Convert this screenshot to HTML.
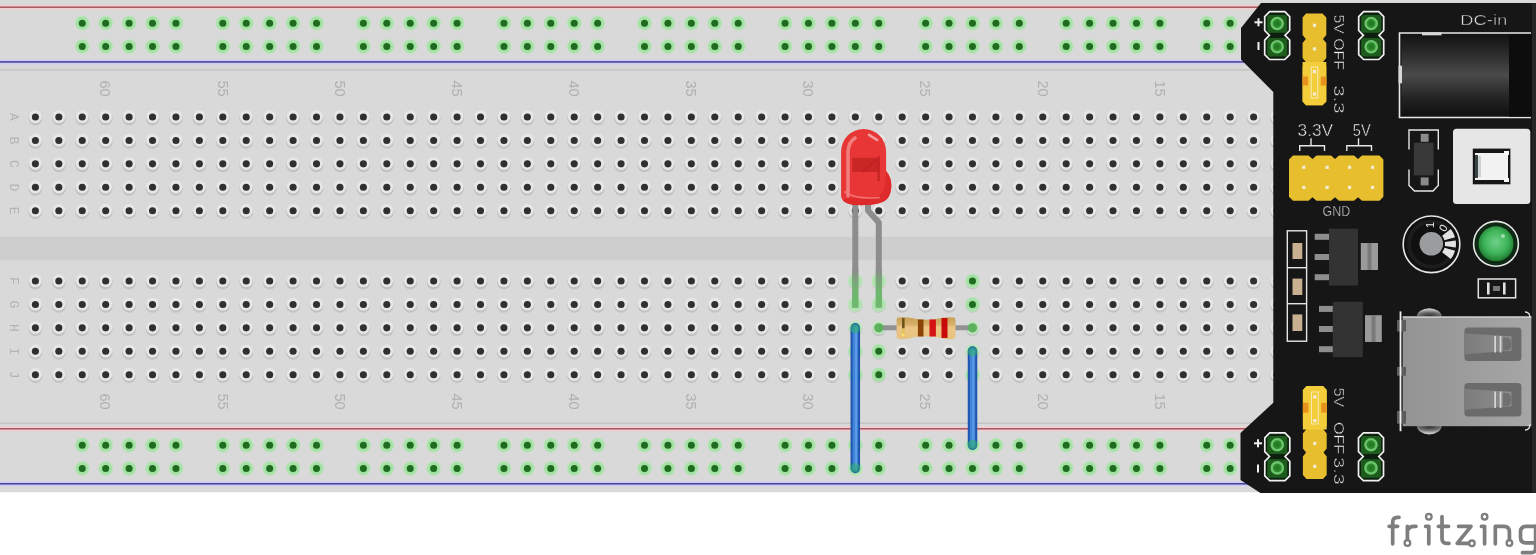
<!DOCTYPE html>
<html><head><meta charset="utf-8"><title>Fritzing breadboard</title>
<style>html,body{margin:0;padding:0;background:#fff;width:1536px;height:555px;overflow:hidden;font-family:"Liberation Sans",sans-serif}svg{display:block;filter:blur(0.45px)}</style>
</head><body>
<svg width="1536" height="555" viewBox="0 0 1536 555">
<defs>
<linearGradient id="hl" x1="0" y1="0" x2="0" y2="1">
 <stop offset="0" stop-color="#f6f6f6"/><stop offset="0.45" stop-color="#efefef"/><stop offset="0.7" stop-color="#d2d2d2"/><stop offset="1" stop-color="#bababa"/>
</linearGradient>
<radialGradient id="gh" cx="0.5" cy="0.5" r="0.5">
 <stop offset="0" stop-color="#98dc98"/><stop offset="0.8" stop-color="#a8e2a8"/><stop offset="1" stop-color="#bce6bc" stop-opacity="0.6"/>
</radialGradient>
<filter id="bl" x="-30%" y="-30%" width="160%" height="160%"><feGaussianBlur stdDeviation="0.9"/></filter><filter id="bl3" x="-30%" y="-30%" width="160%" height="160%"><feGaussianBlur stdDeviation="0.75"/></filter><filter id="bl2" x="-30%" y="-30%" width="160%" height="160%"><feGaussianBlur stdDeviation="0.6"/></filter>
<g id="d"><circle cx="0" cy="1.5" r="6.9" fill="#c2c2c2" filter="url(#bl3)"/><circle cx="0" cy="-0.3" r="6.4" fill="#e7e7e7" filter="url(#bl3)"/><circle r="3.55" fill="#303030"/></g>
<g id="g"><circle r="7.6" fill="url(#gh)" filter="url(#bl2)"/><circle r="3.5" fill="#1f6b1f"/></g>
<g id="gd"><circle cx="0" cy="1.5" r="6.9" fill="#c2c2c2" filter="url(#bl3)"/><circle r="7.6" fill="url(#gh)" filter="url(#bl2)"/><circle r="3.5" fill="#1f6b1f"/></g>
<g id="hdr">
 <path d="M-7.6,-11.8 L7.6,-11.8 L12.5,-6.9 L12.5,7 L7.8,11.8 L12.5,16.6 L12.5,31.1 L7.6,36 L-7.6,36 L-12.5,31.1 L-12.5,16.6 L-7.8,11.8 L-12.5,7 L-12.5,-6.9 Z" fill="#0f1f0f" stroke="#f0f0f0" stroke-width="1.7"/>
 <rect x="-10" y="-8.6" width="20" height="17.8" rx="2.5" fill="#1d5c1d"/>
 <rect x="-10" y="14.6" width="20" height="18.4" rx="2.5" fill="#1d5c1d"/>
 <circle cy="0" r="5.6" fill="#2c8a2c" stroke="#6cc46c" stroke-width="2.4"/>
 <circle cy="23.2" r="5.6" fill="#2c8a2c" stroke="#6cc46c" stroke-width="2.4"/>
 <circle cy="0" r="2.4" fill="#237a23"/>
 <circle cy="23.2" r="2.4" fill="#237a23"/>
</g>
</defs>
<rect x="-5" y="-5" width="1545" height="497.2" fill="#d9d9d9"/>
<rect x="-5" y="236.8" width="1290" height="23.4" fill="#cecece"/>
<rect x="-5" y="4.7" width="1290" height="5" fill="#efd0d2"/>
<rect x="-5" y="6.5" width="1290" height="1.4" fill="#a44c56"/>
<rect x="-5" y="59.4" width="1290" height="5" fill="#cfcdf0"/>
<rect x="-5" y="61.2" width="1290" height="1.4" fill="#3a3494"/>
<rect x="-5" y="69.2" width="1290" height="1.4" fill="#c2c2c2"/>
<rect x="-5" y="422.5" width="1290" height="1.4" fill="#c2c2c2"/>
<rect x="-5" y="426.3" width="1290" height="5" fill="#efd0d2"/>
<rect x="-5" y="428.1" width="1290" height="1.4" fill="#a44c56"/>
<rect x="-5" y="481.3" width="1290" height="5" fill="#cfcdf0"/>
<rect x="-5" y="483.1" width="1290" height="1.4" fill="#3a3494"/>
<use href="#d" x="35.4" y="117"/>
<use href="#d" x="35.4" y="140.43"/>
<use href="#d" x="35.4" y="163.86"/>
<use href="#d" x="35.4" y="187.29"/>
<use href="#d" x="35.4" y="210.72"/>
<use href="#d" x="35.4" y="281"/>
<use href="#d" x="35.4" y="304.43"/>
<use href="#d" x="35.4" y="327.86"/>
<use href="#d" x="35.4" y="351.29"/>
<use href="#d" x="35.4" y="374.72"/>
<use href="#d" x="58.83" y="117"/>
<use href="#d" x="58.83" y="140.43"/>
<use href="#d" x="58.83" y="163.86"/>
<use href="#d" x="58.83" y="187.29"/>
<use href="#d" x="58.83" y="210.72"/>
<use href="#d" x="58.83" y="281"/>
<use href="#d" x="58.83" y="304.43"/>
<use href="#d" x="58.83" y="327.86"/>
<use href="#d" x="58.83" y="351.29"/>
<use href="#d" x="58.83" y="374.72"/>
<use href="#d" x="82.25" y="117"/>
<use href="#d" x="82.25" y="140.43"/>
<use href="#d" x="82.25" y="163.86"/>
<use href="#d" x="82.25" y="187.29"/>
<use href="#d" x="82.25" y="210.72"/>
<use href="#d" x="82.25" y="281"/>
<use href="#d" x="82.25" y="304.43"/>
<use href="#d" x="82.25" y="327.86"/>
<use href="#d" x="82.25" y="351.29"/>
<use href="#d" x="82.25" y="374.72"/>
<use href="#d" x="105.68" y="117"/>
<use href="#d" x="105.68" y="140.43"/>
<use href="#d" x="105.68" y="163.86"/>
<use href="#d" x="105.68" y="187.29"/>
<use href="#d" x="105.68" y="210.72"/>
<use href="#d" x="105.68" y="281"/>
<use href="#d" x="105.68" y="304.43"/>
<use href="#d" x="105.68" y="327.86"/>
<use href="#d" x="105.68" y="351.29"/>
<use href="#d" x="105.68" y="374.72"/>
<use href="#d" x="129.11" y="117"/>
<use href="#d" x="129.11" y="140.43"/>
<use href="#d" x="129.11" y="163.86"/>
<use href="#d" x="129.11" y="187.29"/>
<use href="#d" x="129.11" y="210.72"/>
<use href="#d" x="129.11" y="281"/>
<use href="#d" x="129.11" y="304.43"/>
<use href="#d" x="129.11" y="327.86"/>
<use href="#d" x="129.11" y="351.29"/>
<use href="#d" x="129.11" y="374.72"/>
<use href="#d" x="152.53" y="117"/>
<use href="#d" x="152.53" y="140.43"/>
<use href="#d" x="152.53" y="163.86"/>
<use href="#d" x="152.53" y="187.29"/>
<use href="#d" x="152.53" y="210.72"/>
<use href="#d" x="152.53" y="281"/>
<use href="#d" x="152.53" y="304.43"/>
<use href="#d" x="152.53" y="327.86"/>
<use href="#d" x="152.53" y="351.29"/>
<use href="#d" x="152.53" y="374.72"/>
<use href="#d" x="175.96" y="117"/>
<use href="#d" x="175.96" y="140.43"/>
<use href="#d" x="175.96" y="163.86"/>
<use href="#d" x="175.96" y="187.29"/>
<use href="#d" x="175.96" y="210.72"/>
<use href="#d" x="175.96" y="281"/>
<use href="#d" x="175.96" y="304.43"/>
<use href="#d" x="175.96" y="327.86"/>
<use href="#d" x="175.96" y="351.29"/>
<use href="#d" x="175.96" y="374.72"/>
<use href="#d" x="199.39" y="117"/>
<use href="#d" x="199.39" y="140.43"/>
<use href="#d" x="199.39" y="163.86"/>
<use href="#d" x="199.39" y="187.29"/>
<use href="#d" x="199.39" y="210.72"/>
<use href="#d" x="199.39" y="281"/>
<use href="#d" x="199.39" y="304.43"/>
<use href="#d" x="199.39" y="327.86"/>
<use href="#d" x="199.39" y="351.29"/>
<use href="#d" x="199.39" y="374.72"/>
<use href="#d" x="222.82" y="117"/>
<use href="#d" x="222.82" y="140.43"/>
<use href="#d" x="222.82" y="163.86"/>
<use href="#d" x="222.82" y="187.29"/>
<use href="#d" x="222.82" y="210.72"/>
<use href="#d" x="222.82" y="281"/>
<use href="#d" x="222.82" y="304.43"/>
<use href="#d" x="222.82" y="327.86"/>
<use href="#d" x="222.82" y="351.29"/>
<use href="#d" x="222.82" y="374.72"/>
<use href="#d" x="246.24" y="117"/>
<use href="#d" x="246.24" y="140.43"/>
<use href="#d" x="246.24" y="163.86"/>
<use href="#d" x="246.24" y="187.29"/>
<use href="#d" x="246.24" y="210.72"/>
<use href="#d" x="246.24" y="281"/>
<use href="#d" x="246.24" y="304.43"/>
<use href="#d" x="246.24" y="327.86"/>
<use href="#d" x="246.24" y="351.29"/>
<use href="#d" x="246.24" y="374.72"/>
<use href="#d" x="269.67" y="117"/>
<use href="#d" x="269.67" y="140.43"/>
<use href="#d" x="269.67" y="163.86"/>
<use href="#d" x="269.67" y="187.29"/>
<use href="#d" x="269.67" y="210.72"/>
<use href="#d" x="269.67" y="281"/>
<use href="#d" x="269.67" y="304.43"/>
<use href="#d" x="269.67" y="327.86"/>
<use href="#d" x="269.67" y="351.29"/>
<use href="#d" x="269.67" y="374.72"/>
<use href="#d" x="293.1" y="117"/>
<use href="#d" x="293.1" y="140.43"/>
<use href="#d" x="293.1" y="163.86"/>
<use href="#d" x="293.1" y="187.29"/>
<use href="#d" x="293.1" y="210.72"/>
<use href="#d" x="293.1" y="281"/>
<use href="#d" x="293.1" y="304.43"/>
<use href="#d" x="293.1" y="327.86"/>
<use href="#d" x="293.1" y="351.29"/>
<use href="#d" x="293.1" y="374.72"/>
<use href="#d" x="316.52" y="117"/>
<use href="#d" x="316.52" y="140.43"/>
<use href="#d" x="316.52" y="163.86"/>
<use href="#d" x="316.52" y="187.29"/>
<use href="#d" x="316.52" y="210.72"/>
<use href="#d" x="316.52" y="281"/>
<use href="#d" x="316.52" y="304.43"/>
<use href="#d" x="316.52" y="327.86"/>
<use href="#d" x="316.52" y="351.29"/>
<use href="#d" x="316.52" y="374.72"/>
<use href="#d" x="339.95" y="117"/>
<use href="#d" x="339.95" y="140.43"/>
<use href="#d" x="339.95" y="163.86"/>
<use href="#d" x="339.95" y="187.29"/>
<use href="#d" x="339.95" y="210.72"/>
<use href="#d" x="339.95" y="281"/>
<use href="#d" x="339.95" y="304.43"/>
<use href="#d" x="339.95" y="327.86"/>
<use href="#d" x="339.95" y="351.29"/>
<use href="#d" x="339.95" y="374.72"/>
<use href="#d" x="363.38" y="117"/>
<use href="#d" x="363.38" y="140.43"/>
<use href="#d" x="363.38" y="163.86"/>
<use href="#d" x="363.38" y="187.29"/>
<use href="#d" x="363.38" y="210.72"/>
<use href="#d" x="363.38" y="281"/>
<use href="#d" x="363.38" y="304.43"/>
<use href="#d" x="363.38" y="327.86"/>
<use href="#d" x="363.38" y="351.29"/>
<use href="#d" x="363.38" y="374.72"/>
<use href="#d" x="386.8" y="117"/>
<use href="#d" x="386.8" y="140.43"/>
<use href="#d" x="386.8" y="163.86"/>
<use href="#d" x="386.8" y="187.29"/>
<use href="#d" x="386.8" y="210.72"/>
<use href="#d" x="386.8" y="281"/>
<use href="#d" x="386.8" y="304.43"/>
<use href="#d" x="386.8" y="327.86"/>
<use href="#d" x="386.8" y="351.29"/>
<use href="#d" x="386.8" y="374.72"/>
<use href="#d" x="410.23" y="117"/>
<use href="#d" x="410.23" y="140.43"/>
<use href="#d" x="410.23" y="163.86"/>
<use href="#d" x="410.23" y="187.29"/>
<use href="#d" x="410.23" y="210.72"/>
<use href="#d" x="410.23" y="281"/>
<use href="#d" x="410.23" y="304.43"/>
<use href="#d" x="410.23" y="327.86"/>
<use href="#d" x="410.23" y="351.29"/>
<use href="#d" x="410.23" y="374.72"/>
<use href="#d" x="433.66" y="117"/>
<use href="#d" x="433.66" y="140.43"/>
<use href="#d" x="433.66" y="163.86"/>
<use href="#d" x="433.66" y="187.29"/>
<use href="#d" x="433.66" y="210.72"/>
<use href="#d" x="433.66" y="281"/>
<use href="#d" x="433.66" y="304.43"/>
<use href="#d" x="433.66" y="327.86"/>
<use href="#d" x="433.66" y="351.29"/>
<use href="#d" x="433.66" y="374.72"/>
<use href="#d" x="457.09" y="117"/>
<use href="#d" x="457.09" y="140.43"/>
<use href="#d" x="457.09" y="163.86"/>
<use href="#d" x="457.09" y="187.29"/>
<use href="#d" x="457.09" y="210.72"/>
<use href="#d" x="457.09" y="281"/>
<use href="#d" x="457.09" y="304.43"/>
<use href="#d" x="457.09" y="327.86"/>
<use href="#d" x="457.09" y="351.29"/>
<use href="#d" x="457.09" y="374.72"/>
<use href="#d" x="480.51" y="117"/>
<use href="#d" x="480.51" y="140.43"/>
<use href="#d" x="480.51" y="163.86"/>
<use href="#d" x="480.51" y="187.29"/>
<use href="#d" x="480.51" y="210.72"/>
<use href="#d" x="480.51" y="281"/>
<use href="#d" x="480.51" y="304.43"/>
<use href="#d" x="480.51" y="327.86"/>
<use href="#d" x="480.51" y="351.29"/>
<use href="#d" x="480.51" y="374.72"/>
<use href="#d" x="503.94" y="117"/>
<use href="#d" x="503.94" y="140.43"/>
<use href="#d" x="503.94" y="163.86"/>
<use href="#d" x="503.94" y="187.29"/>
<use href="#d" x="503.94" y="210.72"/>
<use href="#d" x="503.94" y="281"/>
<use href="#d" x="503.94" y="304.43"/>
<use href="#d" x="503.94" y="327.86"/>
<use href="#d" x="503.94" y="351.29"/>
<use href="#d" x="503.94" y="374.72"/>
<use href="#d" x="527.37" y="117"/>
<use href="#d" x="527.37" y="140.43"/>
<use href="#d" x="527.37" y="163.86"/>
<use href="#d" x="527.37" y="187.29"/>
<use href="#d" x="527.37" y="210.72"/>
<use href="#d" x="527.37" y="281"/>
<use href="#d" x="527.37" y="304.43"/>
<use href="#d" x="527.37" y="327.86"/>
<use href="#d" x="527.37" y="351.29"/>
<use href="#d" x="527.37" y="374.72"/>
<use href="#d" x="550.79" y="117"/>
<use href="#d" x="550.79" y="140.43"/>
<use href="#d" x="550.79" y="163.86"/>
<use href="#d" x="550.79" y="187.29"/>
<use href="#d" x="550.79" y="210.72"/>
<use href="#d" x="550.79" y="281"/>
<use href="#d" x="550.79" y="304.43"/>
<use href="#d" x="550.79" y="327.86"/>
<use href="#d" x="550.79" y="351.29"/>
<use href="#d" x="550.79" y="374.72"/>
<use href="#d" x="574.22" y="117"/>
<use href="#d" x="574.22" y="140.43"/>
<use href="#d" x="574.22" y="163.86"/>
<use href="#d" x="574.22" y="187.29"/>
<use href="#d" x="574.22" y="210.72"/>
<use href="#d" x="574.22" y="281"/>
<use href="#d" x="574.22" y="304.43"/>
<use href="#d" x="574.22" y="327.86"/>
<use href="#d" x="574.22" y="351.29"/>
<use href="#d" x="574.22" y="374.72"/>
<use href="#d" x="597.65" y="117"/>
<use href="#d" x="597.65" y="140.43"/>
<use href="#d" x="597.65" y="163.86"/>
<use href="#d" x="597.65" y="187.29"/>
<use href="#d" x="597.65" y="210.72"/>
<use href="#d" x="597.65" y="281"/>
<use href="#d" x="597.65" y="304.43"/>
<use href="#d" x="597.65" y="327.86"/>
<use href="#d" x="597.65" y="351.29"/>
<use href="#d" x="597.65" y="374.72"/>
<use href="#d" x="621.07" y="117"/>
<use href="#d" x="621.07" y="140.43"/>
<use href="#d" x="621.07" y="163.86"/>
<use href="#d" x="621.07" y="187.29"/>
<use href="#d" x="621.07" y="210.72"/>
<use href="#d" x="621.07" y="281"/>
<use href="#d" x="621.07" y="304.43"/>
<use href="#d" x="621.07" y="327.86"/>
<use href="#d" x="621.07" y="351.29"/>
<use href="#d" x="621.07" y="374.72"/>
<use href="#d" x="644.5" y="117"/>
<use href="#d" x="644.5" y="140.43"/>
<use href="#d" x="644.5" y="163.86"/>
<use href="#d" x="644.5" y="187.29"/>
<use href="#d" x="644.5" y="210.72"/>
<use href="#d" x="644.5" y="281"/>
<use href="#d" x="644.5" y="304.43"/>
<use href="#d" x="644.5" y="327.86"/>
<use href="#d" x="644.5" y="351.29"/>
<use href="#d" x="644.5" y="374.72"/>
<use href="#d" x="667.93" y="117"/>
<use href="#d" x="667.93" y="140.43"/>
<use href="#d" x="667.93" y="163.86"/>
<use href="#d" x="667.93" y="187.29"/>
<use href="#d" x="667.93" y="210.72"/>
<use href="#d" x="667.93" y="281"/>
<use href="#d" x="667.93" y="304.43"/>
<use href="#d" x="667.93" y="327.86"/>
<use href="#d" x="667.93" y="351.29"/>
<use href="#d" x="667.93" y="374.72"/>
<use href="#d" x="691.36" y="117"/>
<use href="#d" x="691.36" y="140.43"/>
<use href="#d" x="691.36" y="163.86"/>
<use href="#d" x="691.36" y="187.29"/>
<use href="#d" x="691.36" y="210.72"/>
<use href="#d" x="691.36" y="281"/>
<use href="#d" x="691.36" y="304.43"/>
<use href="#d" x="691.36" y="327.86"/>
<use href="#d" x="691.36" y="351.29"/>
<use href="#d" x="691.36" y="374.72"/>
<use href="#d" x="714.78" y="117"/>
<use href="#d" x="714.78" y="140.43"/>
<use href="#d" x="714.78" y="163.86"/>
<use href="#d" x="714.78" y="187.29"/>
<use href="#d" x="714.78" y="210.72"/>
<use href="#d" x="714.78" y="281"/>
<use href="#d" x="714.78" y="304.43"/>
<use href="#d" x="714.78" y="327.86"/>
<use href="#d" x="714.78" y="351.29"/>
<use href="#d" x="714.78" y="374.72"/>
<use href="#d" x="738.21" y="117"/>
<use href="#d" x="738.21" y="140.43"/>
<use href="#d" x="738.21" y="163.86"/>
<use href="#d" x="738.21" y="187.29"/>
<use href="#d" x="738.21" y="210.72"/>
<use href="#d" x="738.21" y="281"/>
<use href="#d" x="738.21" y="304.43"/>
<use href="#d" x="738.21" y="327.86"/>
<use href="#d" x="738.21" y="351.29"/>
<use href="#d" x="738.21" y="374.72"/>
<use href="#d" x="761.64" y="117"/>
<use href="#d" x="761.64" y="140.43"/>
<use href="#d" x="761.64" y="163.86"/>
<use href="#d" x="761.64" y="187.29"/>
<use href="#d" x="761.64" y="210.72"/>
<use href="#d" x="761.64" y="281"/>
<use href="#d" x="761.64" y="304.43"/>
<use href="#d" x="761.64" y="327.86"/>
<use href="#d" x="761.64" y="351.29"/>
<use href="#d" x="761.64" y="374.72"/>
<use href="#d" x="785.06" y="117"/>
<use href="#d" x="785.06" y="140.43"/>
<use href="#d" x="785.06" y="163.86"/>
<use href="#d" x="785.06" y="187.29"/>
<use href="#d" x="785.06" y="210.72"/>
<use href="#d" x="785.06" y="281"/>
<use href="#d" x="785.06" y="304.43"/>
<use href="#d" x="785.06" y="327.86"/>
<use href="#d" x="785.06" y="351.29"/>
<use href="#d" x="785.06" y="374.72"/>
<use href="#d" x="808.49" y="117"/>
<use href="#d" x="808.49" y="140.43"/>
<use href="#d" x="808.49" y="163.86"/>
<use href="#d" x="808.49" y="187.29"/>
<use href="#d" x="808.49" y="210.72"/>
<use href="#d" x="808.49" y="281"/>
<use href="#d" x="808.49" y="304.43"/>
<use href="#d" x="808.49" y="327.86"/>
<use href="#d" x="808.49" y="351.29"/>
<use href="#d" x="808.49" y="374.72"/>
<use href="#d" x="831.92" y="117"/>
<use href="#d" x="831.92" y="140.43"/>
<use href="#d" x="831.92" y="163.86"/>
<use href="#d" x="831.92" y="187.29"/>
<use href="#d" x="831.92" y="210.72"/>
<use href="#d" x="831.92" y="281"/>
<use href="#d" x="831.92" y="304.43"/>
<use href="#d" x="831.92" y="327.86"/>
<use href="#d" x="831.92" y="351.29"/>
<use href="#d" x="831.92" y="374.72"/>
<use href="#d" x="855.34" y="117"/>
<use href="#d" x="855.34" y="140.43"/>
<use href="#d" x="855.34" y="163.86"/>
<use href="#d" x="855.34" y="187.29"/>
<use href="#d" x="855.34" y="210.72"/>
<use href="#gd" x="855.34" y="281"/>
<use href="#gd" x="855.34" y="304.43"/>
<use href="#d" x="855.34" y="327.86"/>
<use href="#gd" x="855.34" y="351.29"/>
<use href="#gd" x="855.34" y="374.72"/>
<use href="#d" x="878.77" y="117"/>
<use href="#d" x="878.77" y="140.43"/>
<use href="#d" x="878.77" y="163.86"/>
<use href="#d" x="878.77" y="187.29"/>
<use href="#d" x="878.77" y="210.72"/>
<use href="#gd" x="878.77" y="281"/>
<use href="#gd" x="878.77" y="304.43"/>
<use href="#d" x="878.77" y="327.86"/>
<use href="#gd" x="878.77" y="351.29"/>
<use href="#gd" x="878.77" y="374.72"/>
<use href="#d" x="902.2" y="117"/>
<use href="#d" x="902.2" y="140.43"/>
<use href="#d" x="902.2" y="163.86"/>
<use href="#d" x="902.2" y="187.29"/>
<use href="#d" x="902.2" y="210.72"/>
<use href="#d" x="902.2" y="281"/>
<use href="#d" x="902.2" y="304.43"/>
<use href="#d" x="902.2" y="327.86"/>
<use href="#d" x="902.2" y="351.29"/>
<use href="#d" x="902.2" y="374.72"/>
<use href="#d" x="925.63" y="117"/>
<use href="#d" x="925.63" y="140.43"/>
<use href="#d" x="925.63" y="163.86"/>
<use href="#d" x="925.63" y="187.29"/>
<use href="#d" x="925.63" y="210.72"/>
<use href="#d" x="925.63" y="281"/>
<use href="#d" x="925.63" y="304.43"/>
<use href="#d" x="925.63" y="327.86"/>
<use href="#d" x="925.63" y="351.29"/>
<use href="#d" x="925.63" y="374.72"/>
<use href="#d" x="949.05" y="117"/>
<use href="#d" x="949.05" y="140.43"/>
<use href="#d" x="949.05" y="163.86"/>
<use href="#d" x="949.05" y="187.29"/>
<use href="#d" x="949.05" y="210.72"/>
<use href="#d" x="949.05" y="281"/>
<use href="#d" x="949.05" y="304.43"/>
<use href="#d" x="949.05" y="327.86"/>
<use href="#d" x="949.05" y="351.29"/>
<use href="#d" x="949.05" y="374.72"/>
<use href="#d" x="972.48" y="117"/>
<use href="#d" x="972.48" y="140.43"/>
<use href="#d" x="972.48" y="163.86"/>
<use href="#d" x="972.48" y="187.29"/>
<use href="#d" x="972.48" y="210.72"/>
<use href="#gd" x="972.48" y="281"/>
<use href="#gd" x="972.48" y="304.43"/>
<use href="#d" x="972.48" y="327.86"/>
<use href="#d" x="972.48" y="351.29"/>
<use href="#gd" x="972.48" y="374.72"/>
<use href="#d" x="995.91" y="117"/>
<use href="#d" x="995.91" y="140.43"/>
<use href="#d" x="995.91" y="163.86"/>
<use href="#d" x="995.91" y="187.29"/>
<use href="#d" x="995.91" y="210.72"/>
<use href="#d" x="995.91" y="281"/>
<use href="#d" x="995.91" y="304.43"/>
<use href="#d" x="995.91" y="327.86"/>
<use href="#d" x="995.91" y="351.29"/>
<use href="#d" x="995.91" y="374.72"/>
<use href="#d" x="1019.33" y="117"/>
<use href="#d" x="1019.33" y="140.43"/>
<use href="#d" x="1019.33" y="163.86"/>
<use href="#d" x="1019.33" y="187.29"/>
<use href="#d" x="1019.33" y="210.72"/>
<use href="#d" x="1019.33" y="281"/>
<use href="#d" x="1019.33" y="304.43"/>
<use href="#d" x="1019.33" y="327.86"/>
<use href="#d" x="1019.33" y="351.29"/>
<use href="#d" x="1019.33" y="374.72"/>
<use href="#d" x="1042.76" y="117"/>
<use href="#d" x="1042.76" y="140.43"/>
<use href="#d" x="1042.76" y="163.86"/>
<use href="#d" x="1042.76" y="187.29"/>
<use href="#d" x="1042.76" y="210.72"/>
<use href="#d" x="1042.76" y="281"/>
<use href="#d" x="1042.76" y="304.43"/>
<use href="#d" x="1042.76" y="327.86"/>
<use href="#d" x="1042.76" y="351.29"/>
<use href="#d" x="1042.76" y="374.72"/>
<use href="#d" x="1066.19" y="117"/>
<use href="#d" x="1066.19" y="140.43"/>
<use href="#d" x="1066.19" y="163.86"/>
<use href="#d" x="1066.19" y="187.29"/>
<use href="#d" x="1066.19" y="210.72"/>
<use href="#d" x="1066.19" y="281"/>
<use href="#d" x="1066.19" y="304.43"/>
<use href="#d" x="1066.19" y="327.86"/>
<use href="#d" x="1066.19" y="351.29"/>
<use href="#d" x="1066.19" y="374.72"/>
<use href="#d" x="1089.62" y="117"/>
<use href="#d" x="1089.62" y="140.43"/>
<use href="#d" x="1089.62" y="163.86"/>
<use href="#d" x="1089.62" y="187.29"/>
<use href="#d" x="1089.62" y="210.72"/>
<use href="#d" x="1089.62" y="281"/>
<use href="#d" x="1089.62" y="304.43"/>
<use href="#d" x="1089.62" y="327.86"/>
<use href="#d" x="1089.62" y="351.29"/>
<use href="#d" x="1089.62" y="374.72"/>
<use href="#d" x="1113.04" y="117"/>
<use href="#d" x="1113.04" y="140.43"/>
<use href="#d" x="1113.04" y="163.86"/>
<use href="#d" x="1113.04" y="187.29"/>
<use href="#d" x="1113.04" y="210.72"/>
<use href="#d" x="1113.04" y="281"/>
<use href="#d" x="1113.04" y="304.43"/>
<use href="#d" x="1113.04" y="327.86"/>
<use href="#d" x="1113.04" y="351.29"/>
<use href="#d" x="1113.04" y="374.72"/>
<use href="#d" x="1136.47" y="117"/>
<use href="#d" x="1136.47" y="140.43"/>
<use href="#d" x="1136.47" y="163.86"/>
<use href="#d" x="1136.47" y="187.29"/>
<use href="#d" x="1136.47" y="210.72"/>
<use href="#d" x="1136.47" y="281"/>
<use href="#d" x="1136.47" y="304.43"/>
<use href="#d" x="1136.47" y="327.86"/>
<use href="#d" x="1136.47" y="351.29"/>
<use href="#d" x="1136.47" y="374.72"/>
<use href="#d" x="1159.9" y="117"/>
<use href="#d" x="1159.9" y="140.43"/>
<use href="#d" x="1159.9" y="163.86"/>
<use href="#d" x="1159.9" y="187.29"/>
<use href="#d" x="1159.9" y="210.72"/>
<use href="#d" x="1159.9" y="281"/>
<use href="#d" x="1159.9" y="304.43"/>
<use href="#d" x="1159.9" y="327.86"/>
<use href="#d" x="1159.9" y="351.29"/>
<use href="#d" x="1159.9" y="374.72"/>
<use href="#d" x="1183.32" y="117"/>
<use href="#d" x="1183.32" y="140.43"/>
<use href="#d" x="1183.32" y="163.86"/>
<use href="#d" x="1183.32" y="187.29"/>
<use href="#d" x="1183.32" y="210.72"/>
<use href="#d" x="1183.32" y="281"/>
<use href="#d" x="1183.32" y="304.43"/>
<use href="#d" x="1183.32" y="327.86"/>
<use href="#d" x="1183.32" y="351.29"/>
<use href="#d" x="1183.32" y="374.72"/>
<use href="#d" x="1206.75" y="117"/>
<use href="#d" x="1206.75" y="140.43"/>
<use href="#d" x="1206.75" y="163.86"/>
<use href="#d" x="1206.75" y="187.29"/>
<use href="#d" x="1206.75" y="210.72"/>
<use href="#d" x="1206.75" y="281"/>
<use href="#d" x="1206.75" y="304.43"/>
<use href="#d" x="1206.75" y="327.86"/>
<use href="#d" x="1206.75" y="351.29"/>
<use href="#d" x="1206.75" y="374.72"/>
<use href="#d" x="1230.18" y="117"/>
<use href="#d" x="1230.18" y="140.43"/>
<use href="#d" x="1230.18" y="163.86"/>
<use href="#d" x="1230.18" y="187.29"/>
<use href="#d" x="1230.18" y="210.72"/>
<use href="#d" x="1230.18" y="281"/>
<use href="#d" x="1230.18" y="304.43"/>
<use href="#d" x="1230.18" y="327.86"/>
<use href="#d" x="1230.18" y="351.29"/>
<use href="#d" x="1230.18" y="374.72"/>
<use href="#d" x="1253.6" y="117"/>
<use href="#d" x="1253.6" y="140.43"/>
<use href="#d" x="1253.6" y="163.86"/>
<use href="#d" x="1253.6" y="187.29"/>
<use href="#d" x="1253.6" y="210.72"/>
<use href="#d" x="1253.6" y="281"/>
<use href="#d" x="1253.6" y="304.43"/>
<use href="#d" x="1253.6" y="327.86"/>
<use href="#d" x="1253.6" y="351.29"/>
<use href="#d" x="1253.6" y="374.72"/>
<use href="#d" x="1277.03" y="117"/>
<use href="#d" x="1277.03" y="140.43"/>
<use href="#d" x="1277.03" y="163.86"/>
<use href="#d" x="1277.03" y="187.29"/>
<use href="#d" x="1277.03" y="210.72"/>
<use href="#d" x="1277.03" y="281"/>
<use href="#d" x="1277.03" y="304.43"/>
<use href="#d" x="1277.03" y="327.86"/>
<use href="#d" x="1277.03" y="351.29"/>
<use href="#d" x="1277.03" y="374.72"/>
<use href="#g" x="82.25" y="23.2"/>
<use href="#g" x="82.25" y="46.5"/>
<use href="#g" x="82.25" y="445.2"/>
<use href="#g" x="82.25" y="468.5"/>
<use href="#g" x="105.68" y="23.2"/>
<use href="#g" x="105.68" y="46.5"/>
<use href="#g" x="105.68" y="445.2"/>
<use href="#g" x="105.68" y="468.5"/>
<use href="#g" x="129.11" y="23.2"/>
<use href="#g" x="129.11" y="46.5"/>
<use href="#g" x="129.11" y="445.2"/>
<use href="#g" x="129.11" y="468.5"/>
<use href="#g" x="152.53" y="23.2"/>
<use href="#g" x="152.53" y="46.5"/>
<use href="#g" x="152.53" y="445.2"/>
<use href="#g" x="152.53" y="468.5"/>
<use href="#g" x="175.96" y="23.2"/>
<use href="#g" x="175.96" y="46.5"/>
<use href="#g" x="175.96" y="445.2"/>
<use href="#g" x="175.96" y="468.5"/>
<use href="#g" x="222.82" y="23.2"/>
<use href="#g" x="222.82" y="46.5"/>
<use href="#g" x="222.82" y="445.2"/>
<use href="#g" x="222.82" y="468.5"/>
<use href="#g" x="246.24" y="23.2"/>
<use href="#g" x="246.24" y="46.5"/>
<use href="#g" x="246.24" y="445.2"/>
<use href="#g" x="246.24" y="468.5"/>
<use href="#g" x="269.67" y="23.2"/>
<use href="#g" x="269.67" y="46.5"/>
<use href="#g" x="269.67" y="445.2"/>
<use href="#g" x="269.67" y="468.5"/>
<use href="#g" x="293.1" y="23.2"/>
<use href="#g" x="293.1" y="46.5"/>
<use href="#g" x="293.1" y="445.2"/>
<use href="#g" x="293.1" y="468.5"/>
<use href="#g" x="316.52" y="23.2"/>
<use href="#g" x="316.52" y="46.5"/>
<use href="#g" x="316.52" y="445.2"/>
<use href="#g" x="316.52" y="468.5"/>
<use href="#g" x="363.38" y="23.2"/>
<use href="#g" x="363.38" y="46.5"/>
<use href="#g" x="363.38" y="445.2"/>
<use href="#g" x="363.38" y="468.5"/>
<use href="#g" x="386.8" y="23.2"/>
<use href="#g" x="386.8" y="46.5"/>
<use href="#g" x="386.8" y="445.2"/>
<use href="#g" x="386.8" y="468.5"/>
<use href="#g" x="410.23" y="23.2"/>
<use href="#g" x="410.23" y="46.5"/>
<use href="#g" x="410.23" y="445.2"/>
<use href="#g" x="410.23" y="468.5"/>
<use href="#g" x="433.66" y="23.2"/>
<use href="#g" x="433.66" y="46.5"/>
<use href="#g" x="433.66" y="445.2"/>
<use href="#g" x="433.66" y="468.5"/>
<use href="#g" x="457.09" y="23.2"/>
<use href="#g" x="457.09" y="46.5"/>
<use href="#g" x="457.09" y="445.2"/>
<use href="#g" x="457.09" y="468.5"/>
<use href="#g" x="503.94" y="23.2"/>
<use href="#g" x="503.94" y="46.5"/>
<use href="#g" x="503.94" y="445.2"/>
<use href="#g" x="503.94" y="468.5"/>
<use href="#g" x="527.37" y="23.2"/>
<use href="#g" x="527.37" y="46.5"/>
<use href="#g" x="527.37" y="445.2"/>
<use href="#g" x="527.37" y="468.5"/>
<use href="#g" x="550.79" y="23.2"/>
<use href="#g" x="550.79" y="46.5"/>
<use href="#g" x="550.79" y="445.2"/>
<use href="#g" x="550.79" y="468.5"/>
<use href="#g" x="574.22" y="23.2"/>
<use href="#g" x="574.22" y="46.5"/>
<use href="#g" x="574.22" y="445.2"/>
<use href="#g" x="574.22" y="468.5"/>
<use href="#g" x="597.65" y="23.2"/>
<use href="#g" x="597.65" y="46.5"/>
<use href="#g" x="597.65" y="445.2"/>
<use href="#g" x="597.65" y="468.5"/>
<use href="#g" x="644.5" y="23.2"/>
<use href="#g" x="644.5" y="46.5"/>
<use href="#g" x="644.5" y="445.2"/>
<use href="#g" x="644.5" y="468.5"/>
<use href="#g" x="667.93" y="23.2"/>
<use href="#g" x="667.93" y="46.5"/>
<use href="#g" x="667.93" y="445.2"/>
<use href="#g" x="667.93" y="468.5"/>
<use href="#g" x="691.36" y="23.2"/>
<use href="#g" x="691.36" y="46.5"/>
<use href="#g" x="691.36" y="445.2"/>
<use href="#g" x="691.36" y="468.5"/>
<use href="#g" x="714.78" y="23.2"/>
<use href="#g" x="714.78" y="46.5"/>
<use href="#g" x="714.78" y="445.2"/>
<use href="#g" x="714.78" y="468.5"/>
<use href="#g" x="738.21" y="23.2"/>
<use href="#g" x="738.21" y="46.5"/>
<use href="#g" x="738.21" y="445.2"/>
<use href="#g" x="738.21" y="468.5"/>
<use href="#g" x="785.06" y="23.2"/>
<use href="#g" x="785.06" y="46.5"/>
<use href="#g" x="785.06" y="445.2"/>
<use href="#g" x="785.06" y="468.5"/>
<use href="#g" x="808.49" y="23.2"/>
<use href="#g" x="808.49" y="46.5"/>
<use href="#g" x="808.49" y="445.2"/>
<use href="#g" x="808.49" y="468.5"/>
<use href="#g" x="831.92" y="23.2"/>
<use href="#g" x="831.92" y="46.5"/>
<use href="#g" x="831.92" y="445.2"/>
<use href="#g" x="831.92" y="468.5"/>
<use href="#g" x="855.34" y="23.2"/>
<use href="#g" x="855.34" y="46.5"/>
<use href="#g" x="855.34" y="445.2"/>
<use href="#g" x="855.34" y="468.5"/>
<use href="#g" x="878.77" y="23.2"/>
<use href="#g" x="878.77" y="46.5"/>
<use href="#g" x="878.77" y="445.2"/>
<use href="#g" x="878.77" y="468.5"/>
<use href="#g" x="925.63" y="23.2"/>
<use href="#g" x="925.63" y="46.5"/>
<use href="#g" x="925.63" y="445.2"/>
<use href="#g" x="925.63" y="468.5"/>
<use href="#g" x="949.05" y="23.2"/>
<use href="#g" x="949.05" y="46.5"/>
<use href="#g" x="949.05" y="445.2"/>
<use href="#g" x="949.05" y="468.5"/>
<use href="#g" x="972.48" y="23.2"/>
<use href="#g" x="972.48" y="46.5"/>
<use href="#g" x="972.48" y="445.2"/>
<use href="#g" x="972.48" y="468.5"/>
<use href="#g" x="995.91" y="23.2"/>
<use href="#g" x="995.91" y="46.5"/>
<use href="#g" x="995.91" y="445.2"/>
<use href="#g" x="995.91" y="468.5"/>
<use href="#g" x="1019.33" y="23.2"/>
<use href="#g" x="1019.33" y="46.5"/>
<use href="#g" x="1019.33" y="445.2"/>
<use href="#g" x="1019.33" y="468.5"/>
<use href="#g" x="1066.19" y="23.2"/>
<use href="#g" x="1066.19" y="46.5"/>
<use href="#g" x="1066.19" y="445.2"/>
<use href="#g" x="1066.19" y="468.5"/>
<use href="#g" x="1089.62" y="23.2"/>
<use href="#g" x="1089.62" y="46.5"/>
<use href="#g" x="1089.62" y="445.2"/>
<use href="#g" x="1089.62" y="468.5"/>
<use href="#g" x="1113.04" y="23.2"/>
<use href="#g" x="1113.04" y="46.5"/>
<use href="#g" x="1113.04" y="445.2"/>
<use href="#g" x="1113.04" y="468.5"/>
<use href="#g" x="1136.47" y="23.2"/>
<use href="#g" x="1136.47" y="46.5"/>
<use href="#g" x="1136.47" y="445.2"/>
<use href="#g" x="1136.47" y="468.5"/>
<use href="#g" x="1159.9" y="23.2"/>
<use href="#g" x="1159.9" y="46.5"/>
<use href="#g" x="1159.9" y="445.2"/>
<use href="#g" x="1159.9" y="468.5"/>
<use href="#g" x="1206.75" y="23.2"/>
<use href="#g" x="1206.75" y="46.5"/>
<use href="#g" x="1206.75" y="445.2"/>
<use href="#g" x="1206.75" y="468.5"/>
<use href="#g" x="1230.18" y="23.2"/>
<use href="#g" x="1230.18" y="46.5"/>
<use href="#g" x="1230.18" y="445.2"/>
<use href="#g" x="1230.18" y="468.5"/>
<use href="#g" x="1253.6" y="23.2"/>
<use href="#g" x="1253.6" y="46.5"/>
<use href="#g" x="1253.6" y="445.2"/>
<use href="#g" x="1253.6" y="468.5"/>
<use href="#g" x="1277.03" y="23.2"/>
<use href="#g" x="1277.03" y="46.5"/>
<use href="#g" x="1277.03" y="445.2"/>
<use href="#g" x="1277.03" y="468.5"/>
<use href="#g" x="1300.46" y="23.2"/>
<use href="#g" x="1300.46" y="46.5"/>
<use href="#g" x="1300.46" y="445.2"/>
<use href="#g" x="1300.46" y="468.5"/>
<g font-family="Liberation Sans, sans-serif" font-size="14.5" fill="#b0b0b0" text-anchor="middle"><text transform="translate(100.48,88.5) rotate(90)" x="0" y="0">60</text><text transform="translate(100.48,401.6) rotate(90)" x="0" y="0">60</text><text transform="translate(217.62,88.5) rotate(90)" x="0" y="0">55</text><text transform="translate(217.62,401.6) rotate(90)" x="0" y="0">55</text><text transform="translate(334.75,88.5) rotate(90)" x="0" y="0">50</text><text transform="translate(334.75,401.6) rotate(90)" x="0" y="0">50</text><text transform="translate(451.89,88.5) rotate(90)" x="0" y="0">45</text><text transform="translate(451.89,401.6) rotate(90)" x="0" y="0">45</text><text transform="translate(569.02,88.5) rotate(90)" x="0" y="0">40</text><text transform="translate(569.02,401.6) rotate(90)" x="0" y="0">40</text><text transform="translate(686.16,88.5) rotate(90)" x="0" y="0">35</text><text transform="translate(686.16,401.6) rotate(90)" x="0" y="0">35</text><text transform="translate(803.29,88.5) rotate(90)" x="0" y="0">30</text><text transform="translate(803.29,401.6) rotate(90)" x="0" y="0">30</text><text transform="translate(920.43,88.5) rotate(90)" x="0" y="0">25</text><text transform="translate(920.43,401.6) rotate(90)" x="0" y="0">25</text><text transform="translate(1037.56,88.5) rotate(90)" x="0" y="0">20</text><text transform="translate(1037.56,401.6) rotate(90)" x="0" y="0">20</text><text transform="translate(1154.7,88.5) rotate(90)" x="0" y="0">15</text><text transform="translate(1154.7,401.6) rotate(90)" x="0" y="0">15</text></g>
<g font-family="Liberation Mono, monospace" font-size="13" fill="#b4b4b4" text-anchor="middle"><text transform="translate(9.5,117) rotate(90)">A</text><text transform="translate(9.5,140.43) rotate(90)">B</text><text transform="translate(9.5,163.86) rotate(90)">C</text><text transform="translate(9.5,187.29) rotate(90)">D</text><text transform="translate(9.5,210.72) rotate(90)">E</text><text transform="translate(9.5,281) rotate(90)">F</text><text transform="translate(9.5,304.43) rotate(90)">G</text><text transform="translate(9.5,327.86) rotate(90)">H</text><text transform="translate(9.5,351.29) rotate(90)">I</text><text transform="translate(9.5,374.72) rotate(90)">J</text></g>
<g id="comps">
<defs>
<radialGradient id="gh2" cx="0.5" cy="0.5" r="0.5">
 <stop offset="0" stop-color="#9ddc9d"/><stop offset="0.6" stop-color="#aee2ae"/><stop offset="1" stop-color="#c8e8c8" stop-opacity="0"/>
</radialGradient>
</defs>
<!-- LED leg halos -->
<circle cx="855.3" cy="281" r="8" fill="url(#gh2)"/>
<circle cx="855.3" cy="304.4" r="8" fill="url(#gh2)"/>
<circle cx="878.8" cy="281" r="8" fill="url(#gh2)"/>
<circle cx="878.8" cy="304.4" r="8" fill="url(#gh2)"/>
<!-- LED legs -->
<g fill="none" stroke-linecap="butt" stroke-linejoin="round">
<path d="M855.3,200 L855.3,307.5" stroke="#8d8d8d" stroke-width="6"/>
<path d="M868,200 L868,210.5 L878.8,222.5 L878.8,307.5" stroke="#8d8d8d" stroke-width="6"/>
<linearGradient id="lg" gradientUnits="userSpaceOnUse" x1="0" y1="268" x2="0" y2="292"><stop offset="0" stop-color="#8d8d8d"/><stop offset="1" stop-color="#6cb86c"/></linearGradient><path d="M855.3,268 L855.3,307.5" stroke="url(#lg)" stroke-width="6"/>
<path d="M878.8,268 L878.8,307.5" stroke="url(#lg)" stroke-width="6"/>
</g>
<!-- LED body -->
<path d="M841.1,151.5 A22.5,22.5 0 0 1 886.1,151.5 L886.1,171 C889.5,175 891.5,180 891.3,186 C891,193.5 888.5,198.5 884.5,201 C878,204.6 868,205.3 858,205.1 C850.5,204.8 845.5,203.2 843,200.5 C841.5,198.5 841.1,197 841.1,195 Z" fill="#e83636"/>
<path d="M886.1,171 C889.5,175 891.5,180 891.3,186 C891,193.5 888.5,198.5 884.5,201 C878,204.6 868,205.3 858,205.1 C850.5,204.8 845.5,203.2 843,200.5 C845,198 852,197.5 860,198.5 C872,199.5 880,197 882.5,192 C885,186 886.1,180 886.1,171 Z" fill="#de2a2a"/>
<path d="M852.3,157.8 L879.5,157.8 L879.5,172 L852.3,172 Z" fill="#c92626"/>
<path d="M863,172 L878.6,157.8 L878.6,181" fill="none" stroke="#c42222" stroke-width="2.2"/>
<path d="M848,196 L848,152 Q848.5,142 855,138" fill="none" stroke="#f28a8a" stroke-width="3.6" stroke-linecap="round" opacity="0.85"/>
<path d="M869,134.8 L877.2,140" fill="none" stroke="#f7a8a8" stroke-width="2.6" stroke-linecap="round" opacity="0.9"/>
<path d="M844,191.5 Q856,200 880,197.5" fill="none" stroke="#f27a7a" stroke-width="1.6" opacity="0.9"/>
<!-- resistor -->
<circle cx="878.8" cy="327.8" r="8" fill="url(#gh2)"/>
<circle cx="972.5" cy="327.8" r="8" fill="url(#gh2)"/>
<path d="M878.8,327.8 L972.5,327.8" stroke="#929292" stroke-width="5"/>
<circle cx="878.8" cy="327.8" r="4.6" fill="#5cb25c"/>
<circle cx="972.5" cy="327.8" r="4.6" fill="#5cb25c"/>
<defs>
<linearGradient id="rg" x1="0" y1="0" x2="0" y2="1">
<stop offset="0" stop-color="#c9a158"/><stop offset="0.35" stop-color="#d8b06a"/><stop offset="0.45" stop-color="#ebc687"/><stop offset="1" stop-color="#e8c27c"/>
</linearGradient>
</defs>
<path d="M898,317.5 Q910,316.8 916,319 Q926,320.5 936,319 Q946,316.5 954,317.5 Q955.5,318 955.5,320 L955.5,336 Q955.5,338.5 954,338.8 Q946,340 936,336.8 Q926,335.5 916,336.8 Q906,340 898,338.8 Q896.6,338.5 896.6,336 L896.6,320 Q896.6,318 898,317.5 Z" fill="url(#rg)"/>
<rect x="902" y="318" width="2.6" height="10.5" fill="#6e5418"/><rect x="902" y="328.5" width="2.6" height="8" fill="#e2c25a"/>
<rect x="917.9" y="319.5" width="5.6" height="17" fill="#8a4408"/>
<rect x="929.5" y="319.5" width="6.4" height="17" fill="#d41414"/>
<rect x="941.5" y="318" width="6" height="20" fill="#c80a0a"/>
<circle cx="903" cy="335" r="1.6" fill="#f5e070"/>
<!-- blue wires -->
<circle cx="855.3" cy="327.8" r="8.5" fill="url(#gh2)"/>
<circle cx="855.3" cy="468.5" r="8.5" fill="url(#gh2)"/>
<circle cx="972.5" cy="351" r="8.5" fill="url(#gh2)"/>
<circle cx="972.5" cy="445.2" r="8.5" fill="url(#gh2)"/>
<g fill="none" stroke-linecap="round">
<path d="M855.3,327.8 L855.3,468.5" stroke="#1f55ae" stroke-width="9.5"/>
<path d="M855.3,327.8 L855.3,468.5" stroke="#3f84d8" stroke-width="5.5"/>
<path d="M856,327.8 L856,468.5" stroke="#5a9ae6" stroke-width="2"/>
<path d="M972.5,351 L972.5,445.2" stroke="#1f55ae" stroke-width="9.5"/>
<path d="M972.5,351 L972.5,445.2" stroke="#3f84d8" stroke-width="5.5"/>
<path d="M973.2,351 L973.2,445.2" stroke="#5a9ae6" stroke-width="2"/>
</g>
<g fill="#30b070" opacity="0.6">
<circle cx="855.3" cy="328.5" r="4.8"/>
<circle cx="855.3" cy="467.8" r="4.8"/>
<circle cx="972.5" cy="351.7" r="4.8"/>
<circle cx="972.5" cy="444.5" r="4.8"/>
</g>
</g>

<g id="module">
<polygon points="1261,3 1536,3 1536,493 1260.4,493 1240.5,480 1240.5,433 1273.3,402.8 1273.3,92 1241,59.5 1241,28" fill="#161616"/>
<rect x="1532" y="3" width="4" height="490" fill="#262626"/>
<!-- +/- signs -->
<g fill="#f0f0f0">
<rect x="1254.5" y="21.3" width="8" height="2" /><rect x="1257.5" y="18.3" width="2" height="8"/>
<rect x="1257.5" y="42" width="2" height="8"/>
<rect x="1254" y="442.3" width="8" height="2" /><rect x="1257" y="439.3" width="2" height="8"/>
<rect x="1257" y="464.5" width="2" height="8"/>
</g>
<use href="#hdr" x="1277.2" y="23.5"/>
<use href="#hdr" x="1371.2" y="23.5"/>
<use href="#hdr" x="1277.3" y="444.7"/>
<use href="#hdr" x="1371" y="444.7"/>
<!-- top yellow jumper header -->
<g>
<path d="M1306,13.5 L1322.5,13.5 L1326.3,17.5 L1326.3,35 L1323,39 L1326.3,43 L1326.3,58 L1323,62 L1326.3,66 L1326.3,101.5 L1322.5,105.3 L1306,105.3 L1302.6,101.5 L1302.6,66 L1305.8,62 L1302.6,58 L1302.6,43 L1305.8,39 L1302.6,35 L1302.6,17.5 Z" fill="#e6be2e"/>
<path d="M1302.6,62 L1326.3,62 L1326.3,101.5 L1322.5,105.3 L1306,105.3 L1302.6,101.5 Z" fill="#f3cd3a"/>
<rect x="1302.6" y="76.5" width="5.5" height="9" fill="#e8921e"/>
<rect x="1320.8" y="76.5" width="5.5" height="9" fill="#e8921e"/>
<rect x="1311.2" y="67" width="6.6" height="31" fill="none" stroke="#f8f0d0" stroke-width="0.8"/>
<g fill="#f4ecd2"><rect x="1312.9" y="23.7" width="3.2" height="3.2"/><rect x="1312.9" y="47.3" width="3.2" height="3.2"/><rect x="1312.9" y="70.0" width="3.2" height="3.2"/><rect x="1312.9" y="92.4" width="3.2" height="3.2"/></g>
</g>
<!-- bottom yellow jumper header -->
<g>
<path d="M1306.5,386 L1323,386 L1326.7,390 L1326.7,425.5 L1323.5,429.6 L1326.7,433.5 L1326.7,448.5 L1323.5,452.5 L1326.7,456.5 L1326.7,475 L1323,479.1 L1306.5,479.1 L1302.9,475 L1302.9,456.5 L1306.1,452.5 L1302.9,448.5 L1302.9,433.5 L1306.1,429.6 L1302.9,425.5 L1302.9,390 Z" fill="#e6be2e"/>
<path d="M1306.5,386 L1323,386 L1326.7,390 L1326.7,429.6 L1302.9,429.6 L1302.9,390 Z" fill="#f3cd3a"/>
<rect x="1302.9" y="402.8" width="5.5" height="9.9" fill="#e8921e"/>
<rect x="1321.2" y="402.8" width="5.5" height="9.9" fill="#e8921e"/>
<rect x="1311.6" y="392" width="6.6" height="32" fill="none" stroke="#f8f0d0" stroke-width="0.8"/>
<g fill="#f4ecd2"><rect x="1313.2" y="395.3" width="3.2" height="3.2"/><rect x="1313.2" y="419.0" width="3.2" height="3.2"/><rect x="1313.2" y="441.9" width="3.2" height="3.2"/><rect x="1313.2" y="464.7" width="3.2" height="3.2"/></g>
</g>
<!-- rotated labels -->
<g font-family="Liberation Sans, sans-serif" font-size="14.5" fill="#f4f4f4" stroke="#161616" stroke-width="0.5" lengthAdjust="spacingAndGlyphs">
<text transform="translate(1334,14.5) rotate(90)" textLength="55.5" lengthAdjust="spacingAndGlyphs">5V OFF</text>
<text transform="translate(1334,85.3) rotate(90)" textLength="28.4" lengthAdjust="spacingAndGlyphs">3.3</text>
<text transform="translate(1333.5,387.7) rotate(90)" textLength="19.3" lengthAdjust="spacingAndGlyphs">5V</text>
<text transform="translate(1333.5,421.9) rotate(90)" textLength="32.3" lengthAdjust="spacingAndGlyphs">OFF</text>
<text transform="translate(1333.5,457.3) rotate(90)" textLength="27.3" lengthAdjust="spacingAndGlyphs">3.3</text>
</g>
<!-- DC jack -->
<defs>
<linearGradient id="dcg" x1="0" y1="0" x2="0" y2="1">
<stop offset="0" stop-color="#141414"/><stop offset="0.15" stop-color="#222"/><stop offset="0.5" stop-color="#4a4a4a"/><stop offset="0.8" stop-color="#222"/><stop offset="1" stop-color="#111"/>
</linearGradient>
</defs>
<path d="M1531,33 L1399.5,33 L1399.5,117.5 L1531,117.5" fill="none" stroke="#e8e8e8" stroke-width="1.6"/>
<rect x="1401.5" y="35" width="107.5" height="80" fill="url(#dcg)"/>
<rect x="1509" y="34" width="23" height="82.7" fill="#0d0d0d"/>
<rect x="1422" y="32.3" width="19.5" height="3" fill="#d8d8d8"/>
<rect x="1398.5" y="65.7" width="3.5" height="17.6" fill="#d8d8d8"/>
<text x="1460.3" y="24.5" font-family="Liberation Sans, sans-serif" font-size="14" fill="#f0f0f0" stroke="#161616" stroke-width="0.5" textLength="47" lengthAdjust="spacingAndGlyphs">DC-in</text>
<!-- 3.3V 5V labels and header -->
<g font-family="Liberation Sans, sans-serif" fill="#f4f4f4" stroke="#161616" stroke-width="0.5" font-size="15.5">
<text x="1297.6" y="135.5" font-size="16.5" textLength="35.5" lengthAdjust="spacingAndGlyphs">3.3V</text>
<text x="1352.8" y="135.5" font-size="16.5" textLength="17.8" lengthAdjust="spacingAndGlyphs">5V</text>
<text x="1322.6" y="215.8" font-size="14" textLength="27.5" lengthAdjust="spacingAndGlyphs">GND</text>
</g>
<g fill="none" stroke="#e6e6e6" stroke-width="1.4">
<path d="M1299.7,151 L1299.7,145.8 L1324.5,145.8 L1324.5,151 M1311,145.8 L1311,138.3"/>
<path d="M1346.8,151 L1346.8,145.8 L1371.5,145.8 L1371.5,151 M1358.5,145.8 L1358.5,138.3"/>
</g>
<path d="M1293,155.4 L1308.5,155.4 L1312.5,159 L1316.5,155.4 L1331,155.4 L1335,159 L1339,155.4 L1354,155.4 L1358,159 L1362,155.4 L1379.5,155.4 L1383.4,159.5 L1383.4,196.8 L1379.5,200.8 L1362,200.8 L1358,197.2 L1354,200.8 L1339,200.8 L1335,197.2 L1331,200.8 L1316.5,200.8 L1312.5,197.2 L1308.5,200.8 L1293,200.8 L1289,196.8 L1289,159.5 Z" fill="#e6be2e"/>
<g fill="#f4ecd2">
<rect x="1302.2" y="165.7" width="3.2" height="3.2"/><rect x="1325.5" y="165.7" width="3.2" height="3.2"/><rect x="1348.0" y="165.7" width="3.2" height="3.2"/><rect x="1370.9" y="165.7" width="3.2" height="3.2"/>
<rect x="1302.2" y="185.8" width="3.2" height="3.2"/><rect x="1325.5" y="185.8" width="3.2" height="3.2"/><rect x="1348.0" y="185.8" width="3.2" height="3.2"/><rect x="1370.9" y="185.8" width="3.2" height="3.2"/>
</g>
<!-- small SMD (diode) -->
<path d="M1409,149.6 L1409,130 L1438.3,130 L1438.3,149.6 M1438.3,169.4 L1438.3,185.5 L1433,191 L1414.5,191 L1409,185.5 L1409,169.4" fill="none" stroke="#e6e6e6" stroke-width="1.4"/>
<rect x="1413.8" y="142.7" width="19.8" height="32.7" fill="#383838"/>
<rect x="1420.7" y="133.8" width="7.9" height="8" fill="#8a8a8a"/>
<rect x="1420.7" y="177.4" width="7.9" height="8" fill="#8a8a8a"/>
<!-- button box -->
<rect x="1453" y="128.8" width="77.3" height="75.3" rx="3.5" fill="#e6e6e6"/>
<rect x="1472.8" y="148.6" width="37.6" height="35.7" fill="#161616"/>
<rect x="1475" y="153" width="33" height="27" fill="#f2f2f2"/>
<rect x="1475" y="156" width="6" height="21" fill="#ccd2d2"/>
<rect x="1475" y="155" width="3" height="23" fill="#3a4444"/>
<rect x="1504" y="151" width="5" height="4" fill="#fafafa"/>
<rect x="1504" y="178" width="5" height="4" fill="#fafafa"/>
<!-- pot -->
<circle cx="1431.5" cy="244.3" r="28.3" fill="#101010" stroke="#e6e6e6" stroke-width="1.6"/>
<circle cx="1431.5" cy="244.3" r="22.5" fill="none" stroke="#1c1c1c" stroke-width="4"/>
<g fill="#e2e2e2"><path d="M1442.14,235.69 L1450.81,228.92 A24.5,24.5 0 0 1 1455.05,237.25 L1444.48,240.28 A13.5,13.5 0 0 0 1442.14,235.69 Z"/><path d="M1444.87,242.12 L1455.76,240.59 A24.5,24.5 0 0 1 1455.76,247.41 L1444.87,245.88 A13.5,13.5 0 0 0 1444.87,242.12 Z"/><path d="M1444.48,247.72 L1455.05,250.75 A24.5,24.5 0 0 1 1450.81,259.08 L1442.14,252.31 A13.5,13.5 0 0 0 1444.48,247.72 Z"/></g>
<circle cx="1431.3" cy="243.8" r="11.8" fill="#9b9c9e"/>
<g font-family="Liberation Sans, sans-serif" font-size="11" fill="#ececec" text-anchor="middle">
<text transform="translate(1433.5,225) rotate(-90)">1</text>
<text transform="translate(1446.5,229.8) rotate(-60)">0</text>
</g>
<!-- green LED -->
<defs>
<radialGradient id="gl" cx="0.5" cy="0.45" r="0.55">
<stop offset="0" stop-color="#6fd08a"/><stop offset="0.6" stop-color="#3fb55a"/><stop offset="1" stop-color="#1f7a30"/>
</radialGradient>
</defs>
<circle cx="1496" cy="243.8" r="22.4" fill="#0f2a14" stroke="#e6e6e6" stroke-width="1.6"/>
<circle cx="1496" cy="243.8" r="17.5" fill="url(#gl)"/>
<circle cx="1503" cy="236" r="2" fill="#bfeec8" opacity="0.7"/>
<!-- small component under LED -->
<rect x="1478.3" y="279" width="37.3" height="18.8" fill="none" stroke="#e6e6e6" stroke-width="1.5"/>
<rect x="1487" y="282.5" width="2.6" height="12" fill="#e0e0e0"/>
<rect x="1503" y="282.5" width="2.6" height="12" fill="#e0e0e0"/>
<rect x="1493" y="286" width="7" height="5" fill="#777"/>
<!-- resistor array left -->
<g fill="none" stroke="#e6e6e6" stroke-width="1.4">
<rect x="1287.3" y="230.8" width="19.3" height="110.4"/>
<line x1="1287.3" y1="267.7" x2="1306.6" y2="267.7"/>
<line x1="1287.3" y1="303.7" x2="1306.6" y2="303.7"/>
</g>
<g fill="#c8b090">
<rect x="1292.5" y="243" width="9.8" height="16"/>
<rect x="1292.5" y="278.6" width="9.8" height="16.4"/>
<rect x="1292.5" y="314.4" width="9.8" height="16.6"/>
</g>
<!-- regulators -->
<rect x="1329" y="228.7" width="29" height="56.8" fill="#333"/>
<g fill="#8e8e8e"><rect x="1314.7" y="233.8" width="14.3" height="6"/><rect x="1314.7" y="254" width="14.3" height="6"/><rect x="1314.7" y="274.2" width="14.3" height="6"/></g>
<rect x="1360.8" y="243" width="17.2" height="27" fill="#9a9a9a"/>
<rect x="1367.5" y="243" width="4" height="27" fill="#7a7a7a"/>
<rect x="1332.8" y="301.7" width="30" height="55.3" fill="#333"/>
<g fill="#8e8e8e"><rect x="1319" y="305.9" width="13.8" height="6"/><rect x="1319" y="326" width="13.8" height="6"/><rect x="1319" y="346.2" width="13.8" height="6"/></g>
<rect x="1365" y="315.2" width="16.8" height="26.8" fill="#9a9a9a"/>
<rect x="1371.5" y="315.2" width="4" height="26.8" fill="#7a7a7a"/>
<!-- USB -->
<defs><radialGradient id="bump" cx="0.5" cy="1" r="1" fx="0.5" fy="0.9"><stop offset="0" stop-color="#2e2e2e"/><stop offset="0.45" stop-color="#6a6a6a"/><stop offset="0.8" stop-color="#bcbcbc"/><stop offset="1" stop-color="#d4d4d4"/></radialGradient>
<radialGradient id="bump2" cx="0.5" cy="0" r="1" fx="0.5" fy="0.1"><stop offset="0" stop-color="#2e2e2e"/><stop offset="0.45" stop-color="#6a6a6a"/><stop offset="0.8" stop-color="#bcbcbc"/><stop offset="1" stop-color="#d4d4d4"/></radialGradient>
<linearGradient id="usbb" x1="0" y1="0" x2="1" y2="0"><stop offset="0" stop-color="#939393"/><stop offset="1" stop-color="#a6a6a6"/></linearGradient></defs>
<path d="M1416.8,316.8 A12.45,8.6 0 0 1 1441.7,316.8 Z" fill="url(#bump)"/>
<path d="M1416.8,425.8 A12.45,8.6 0 0 0 1441.7,425.8 Z" fill="url(#bump2)"/>
<rect x="1402.7" y="316.4" width="128.7" height="109.8" fill="url(#usbb)"/>
<g fill="#5c5c5c"><rect x="1397" y="320" width="9" height="11.5"/><rect x="1397" y="367" width="9" height="8.7"/><rect x="1397" y="411" width="9" height="12.7"/></g>
<rect x="1399.6" y="311.4" width="1.8" height="119.8" fill="#f0f0f0"/>
<defs><linearGradient id="usbg" x1="0" y1="0" x2="1" y2="0"><stop offset="0" stop-color="#7c7c7c"/><stop offset="0.5" stop-color="#858585"/><stop offset="1" stop-color="#8e8e8e"/></linearGradient></defs>
<g id="slot">
<rect x="1464.4" y="327.4" width="57" height="33.7" rx="3.5" fill="#6b6b6b"/>
<path d="M1464.4,333.6 L1511.4,336.3 L1511.4,350.7 L1464.4,354.3 Z" fill="url(#usbg)"/>
<path d="M1503,337.5 L1507,337.5 Q1511,337.5 1511,344 Q1511,350.5 1507,350.5 L1503,350.5 Z" fill="#6f6f6f"/>
<rect x="1494.3" y="336" width="1.7" height="16.5" fill="#d6d6d6"/>
<rect x="1499.7" y="336" width="1.7" height="16.5" fill="#d6d6d6"/>
</g>
<use href="#slot" x="0" y="55.5"/>
<rect x="1402.7" y="316.4" width="128.7" height="1.6" fill="#c6c6c6"/>
<path d="M1525,312 Q1530,312 1530,318" fill="none" stroke="#e0e0e0" stroke-width="1.3"/>
<path d="M1525,430 Q1530,430 1530,424" fill="none" stroke="#e0e0e0" stroke-width="1.3"/>
</g>

<g id="logo" fill="none" stroke="#7e7e7e" stroke-width="3.7" stroke-linecap="round" stroke-linejoin="round">
<path d="M1392.7,543.8 L1392.7,522 Q1392.7,517.3 1397.5,517.3 L1399,517.3"/>
<path d="M1389.2,526.3 L1397.5,526.3"/>
<path d="M1407.4,539.5 L1407.4,526.3 M1407.4,531 Q1409,526.3 1414,526.3 L1416,526.3"/>
<circle cx="1407.4" cy="543" r="2.8" stroke-width="2.3"/>
<path d="M1425.6,526.3 L1428.8,526.3 L1428.8,543.8"/>
<circle cx="1428.8" cy="516.7" r="2.8" stroke-width="2.3"/>
<path d="M1442,516.7 L1442,538.5 Q1442,543.3 1446.5,543.3 L1449,543.3"/>
<path d="M1438.5,526.3 L1448.5,526.3"/>
<path d="M1458.6,526.3 L1471,526.3 L1457.2,543.3 L1468.6,543.3"/>
<circle cx="1471.9" cy="543.3" r="2.8" stroke-width="2.3"/>
<path d="M1481.4,526.3 L1484.6,526.3 L1484.6,543.8"/>
<circle cx="1484.6" cy="516.7" r="2.8" stroke-width="2.3"/>
<path d="M1495.3,526.3 L1495.3,543.8 M1495.3,526.3 L1504,526.3 Q1509.4,526.3 1509.4,532 L1509.4,539.6"/>
<circle cx="1509.4" cy="543" r="2.8" stroke-width="2.3"/>
<path d="M1540,526.3 L1526,526.3 Q1520.5,526.3 1520.5,532 L1520.5,537.5 Q1520.5,542.8 1526,542.8 L1540,542.8"/><path d="M1535.6,526.3 L1535.6,548 Q1535.6,552.7 1531,552.7 L1522.5,552.7"/>
</g>

</svg>
</body></html>
